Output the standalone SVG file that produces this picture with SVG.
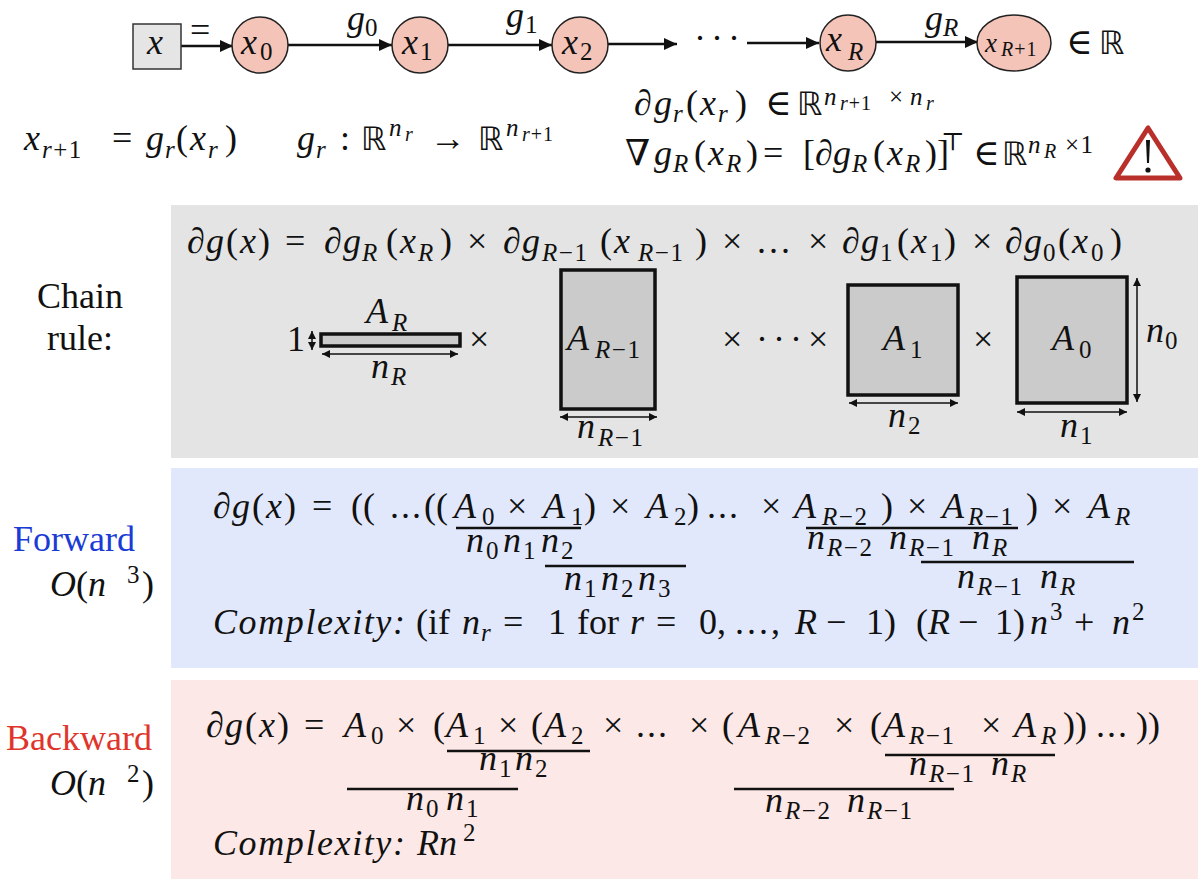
<svg xmlns="http://www.w3.org/2000/svg" width="1200" height="879" viewBox="0 0 1200 879">
<style>
text{font-family:"Liberation Serif","DejaVu Serif",serif;font-size:36px;fill:#111}
.i{font-style:italic}
.s{font-size:25px;letter-spacing:1.5px}
.si{font-size:25px;font-style:italic;letter-spacing:1.5px}
.t{font-size:20px;letter-spacing:1px}
.ti{font-size:20px;font-style:italic;letter-spacing:1px}
.bb{font-family:"DejaVu Sans",sans-serif;font-size:32px}
.c{text-anchor:middle}
.node{fill:#f5c4b8;stroke:#222;stroke-width:1.5}
.edge{stroke:#111;stroke-width:2.5;fill:none;marker-end:url(#big)}
.dim{stroke:#111;stroke-width:1.5;fill:none;marker-start:url(#small);marker-end:url(#small)}
.mat{fill:#cbcbcb;stroke:#111;stroke-width:3.5}
.rule{stroke:#111;stroke-width:2.5}
</style>
<defs>
<marker id="big" markerUnits="userSpaceOnUse" markerWidth="14" markerHeight="14" refX="13" refY="6" orient="auto"><path d="M0 0L13 6L0 12Z" fill="#111"/></marker>
<marker id="small" markerUnits="userSpaceOnUse" markerWidth="9" markerHeight="10" refX="8" refY="4" orient="auto-start-reverse"><path d="M0 0L8 4L0 8Z" fill="#111"/></marker>
</defs>
<rect width="1200" height="879" fill="#fff"/>
<g id="panels">
<rect x="171" y="205" width="1027" height="253" fill="#e4e4e4"/>
<rect x="171" y="468" width="1027" height="200" fill="#e2e8fb"/>
<rect x="171" y="680" width="1027" height="199" fill="#fce8e6"/>
</g>
<g id="connectors">
<line class="edge" x1="180" y1="46" x2="233" y2="46"/>
<line class="edge" x1="288" y1="45" x2="392" y2="45"/>
<line class="edge" x1="448" y1="45" x2="552" y2="45"/>
<line class="edge" x1="608" y1="44" x2="677" y2="44"/>
<line class="edge" x1="747" y1="43" x2="819" y2="43"/>
<line class="edge" x1="876" y1="42" x2="978" y2="42"/>
</g>
<g id="node-x"><rect x="133" y="24" width="48" height="45" fill="#e5e5e5" stroke="#333" stroke-width="1.5"/><text class="i c" x="155" y="54">x</text></g>
<g id="node-x0"><circle class="node" cx="260" cy="45" r="28"/><text y="54"><tspan class="i" x="241">x</tspan><tspan class="s" x="260" y="60">0</tspan></text></g>
<g id="node-x1"><circle class="node" cx="420" cy="45" r="28"/><text y="54"><tspan class="i" x="402">x</tspan><tspan class="s" x="420" y="60">1</tspan></text></g>
<g id="node-x2"><circle class="node" cx="580" cy="45" r="28"/><text y="54"><tspan class="i" x="562">x</tspan><tspan class="s" x="580" y="60">2</tspan></text></g>
<g id="node-xR"><ellipse class="node" cx="848" cy="43" rx="28" ry="28"/><text y="51"><tspan class="i" x="826">x</tspan><tspan class="si" x="848" y="60">R</tspan></text></g>
<g id="node-xR1"><ellipse class="node" cx="1014" cy="43" rx="37" ry="28"/><text y="52" style="font-size:27px"><tspan class="i" x="985">x</tspan><tspan class="ti" x="1001" y="56">R</tspan><tspan class="t">+1</tspan></text></g>
<g id="top-labels">
<text x="190" y="42">=</text>
<text y="30"><tspan class="i" x="347">g</tspan><tspan class="s" x="365" y="36">0</tspan></text>
<text y="27"><tspan class="i" x="506">g</tspan><tspan class="s" x="525" y="33">1</tspan></text>
<text y="30"><tspan class="i" x="925">g</tspan><tspan class="si" x="943" y="36">R</tspan></text>
<text x="694" y="50" style="letter-spacing:5px">···</text>
<text x="1066" y="54">∈</text><text class="bb" x="1099" y="54">ℝ</text>
</g>
<g id="definitions">
<text y="150"><tspan class="i" x="24">x</tspan><tspan class="si" x="42" y="158">r</tspan><tspan class="s">+1</tspan><tspan x="112" y="150">=</tspan><tspan class="i" x="146">g</tspan><tspan class="si" x="165" y="158">r</tspan><tspan x="176" y="150">(</tspan><tspan class="i" x="190">x</tspan><tspan class="si" x="208" y="158">r</tspan><tspan x="225" y="150">)</tspan></text>
<text y="150"><tspan class="i" x="297">g</tspan><tspan class="si" x="316" y="158">r</tspan><tspan x="340" y="150">:</tspan><tspan class="bb" x="361">ℝ</tspan><tspan class="si" x="389" y="136">n</tspan><tspan class="ti" x="405" y="141">r</tspan><tspan x="430" y="150">→</tspan><tspan class="bb" x="478">ℝ</tspan><tspan class="si" x="506" y="136">n</tspan><tspan class="ti" x="522" y="141">r</tspan><tspan class="t">+1</tspan></text>
<text y="115"><tspan x="634">∂</tspan><tspan class="i" x="654">g</tspan><tspan class="si" x="673" y="122">r</tspan><tspan x="686" y="115">(</tspan><tspan class="i" x="700">x</tspan><tspan class="si" x="718" y="122">r</tspan><tspan x="735" y="115">)</tspan><tspan x="765">∈</tspan><tspan class="bb" x="797">ℝ</tspan><tspan class="si" x="824" y="105">n</tspan><tspan class="ti" x="840" y="110">r</tspan><tspan class="t">+1</tspan><tspan class="s" x="889" y="105">×</tspan><tspan class="si" x="910">n</tspan><tspan class="ti" x="926" y="110">r</tspan></text>
<text y="165"><tspan x="625">∇</tspan><tspan class="i" x="654">g</tspan><tspan class="si" x="673" y="172">R</tspan><tspan x="694" y="165">(</tspan><tspan class="i" x="708">x</tspan><tspan class="si" x="726" y="172">R</tspan><tspan x="746" y="165">)</tspan><tspan x="763">=</tspan><tspan x="803">[∂</tspan><tspan class="i" x="833">g</tspan><tspan class="si" x="852" y="172">R</tspan><tspan x="873" y="165">(</tspan><tspan class="i" x="887">x</tspan><tspan class="si" x="905" y="172">R</tspan><tspan x="925" y="165">)]</tspan><tspan class="s" x="941" y="150">⊤</tspan><tspan x="973" y="165">∈</tspan><tspan class="bb" x="1002">ℝ</tspan><tspan class="si" x="1028" y="153">n</tspan><tspan class="ti" x="1044" y="158">R</tspan><tspan class="s" x="1065" y="153">×1</tspan></text>
</g>
<g id="warning">
<path d="M1148 128L1116 178H1180Z" fill="#fff" stroke="#b9302a" stroke-width="5" stroke-linejoin="round"/>
<path d="M1146 140h4l-1 23h-2Z" fill="#111"/><circle cx="1148" cy="170" r="2.6" fill="#111"/>
</g>
<g id="side-labels">
<text class="c" x="80" y="308">Chain</text><text class="c" x="80" y="350">rule:</text>
<text class="c" x="74" y="551" style="fill:#1a3bd6">Forward</text>
<text class="c" x="78" y="596"><tspan class="i">O</tspan>(<tspan class="i">n</tspan><tspan class="s" y="583">3</tspan><tspan y="596">)</tspan></text>
<text class="c" x="79" y="750" style="fill:#e0352b">Backward</text>
<text class="c" x="78" y="795"><tspan class="i">O</tspan>(<tspan class="i">n</tspan><tspan class="s" y="782">2</tspan><tspan y="795">)</tspan></text>
</g>
<g id="chain-equation">
<text y="253"><tspan x="187">∂</tspan><tspan class="i" x="206">g</tspan><tspan x="226">(</tspan><tspan class="i" x="240">x</tspan><tspan x="258">)</tspan><tspan x="285">=</tspan><tspan x="324">∂</tspan><tspan class="i" x="343">g</tspan><tspan class="si" x="362" y="261">R</tspan><tspan x="386" y="253">(</tspan><tspan class="i" x="400">x</tspan><tspan class="si" x="418" y="261">R</tspan><tspan x="440" y="253">)</tspan><tspan x="467">×</tspan><tspan x="503">∂</tspan><tspan class="i" x="522">g</tspan><tspan class="si" x="542" y="261">R</tspan><tspan class="s">−1</tspan><tspan x="600" y="253">(</tspan><tspan class="i" x="614">x</tspan><tspan class="si" x="638" y="261">R</tspan><tspan class="s">−1</tspan><tspan x="695" y="253">)</tspan><tspan x="722">×</tspan><tspan x="757" style="letter-spacing:3px">...</tspan><tspan x="808">×</tspan><tspan x="842">∂</tspan><tspan class="i" x="861">g</tspan><tspan class="s" x="880" y="261">1</tspan><tspan x="897" y="253">(</tspan><tspan class="i" x="911">x</tspan><tspan class="s" x="930" y="261">1</tspan><tspan x="944" y="253">)</tspan><tspan x="972">×</tspan><tspan x="1005">∂</tspan><tspan class="i" x="1024">g</tspan><tspan class="s" x="1043" y="261">0</tspan><tspan x="1058" y="253">(</tspan><tspan class="i" x="1072">x</tspan><tspan class="s" x="1091" y="261">0</tspan><tspan x="1110" y="253">)</tspan></text>
</g>
<g id="matrix-R">
<rect class="mat" x="321" y="334" width="139" height="12"/>
<text y="323"><tspan class="i" x="366">A</tspan><tspan class="si" x="392" y="331">R</tspan></text>
<text x="287" y="351">1</text>
<line class="dim" x1="312" y1="331" x2="312" y2="350"/>
<line class="dim" x1="322" y1="354" x2="458" y2="354"/>
<text y="378"><tspan class="i" x="371">n</tspan><tspan class="si" x="391" y="385">R</tspan></text>
<text x="469" y="351">×</text>
</g>
<g id="matrix-R1">
<rect class="mat" x="561" y="270" width="94" height="139"/>
<text y="350"><tspan class="i" x="567">A</tspan><tspan class="si" x="595" y="358">R</tspan><tspan class="s">−1</tspan></text>
<line class="dim" x1="560" y1="417" x2="657" y2="417"/>
<text y="438"><tspan class="i" x="577">n</tspan><tspan class="si" x="598" y="446">R</tspan><tspan class="s">−1</tspan></text>
</g>
<g id="dots"><text x="722" y="351">×</text><text x="756" y="351" style="letter-spacing:5px">···</text><text x="808" y="351">×</text></g>
<g id="matrix-1">
<rect class="mat" x="848" y="285" width="110" height="110"/>
<text y="350"><tspan class="i" x="883">A</tspan><tspan class="s" x="910" y="358">1</tspan></text>
<line class="dim" x1="849" y1="403" x2="958" y2="403"/>
<text y="427"><tspan class="i" x="888">n</tspan><tspan class="s" x="908" y="434">2</tspan></text>
<text x="973" y="351">×</text>
</g>
<g id="matrix-0">
<rect class="mat" x="1017" y="277" width="110" height="126"/>
<text y="350"><tspan class="i" x="1052">A</tspan><tspan class="s" x="1079" y="358">0</tspan></text>
<line class="dim" x1="1017" y1="412" x2="1127" y2="412"/>
<text y="437"><tspan class="i" x="1060">n</tspan><tspan class="s" x="1080" y="444">1</tspan></text>
<line class="dim" x1="1137" y1="278" x2="1137" y2="402"/>
<text y="342"><tspan class="i" x="1146">n</tspan><tspan class="s" x="1165" y="349">0</tspan></text>
</g>
<g id="forward">
<text y="518"><tspan x="213">∂</tspan><tspan class="i" x="232">g</tspan><tspan x="252">(</tspan><tspan class="i" x="266">x</tspan><tspan x="284">)</tspan><tspan x="312">=</tspan><tspan x="351">((</tspan><tspan x="390" style="letter-spacing:2px">...</tspan><tspan x="424">((</tspan><tspan class="i" x="454">A</tspan><tspan class="s" x="482" y="525">0</tspan><tspan x="507" y="518">×</tspan><tspan class="i" x="543">A</tspan><tspan class="s" x="571" y="525">1</tspan><tspan x="584" y="518">)</tspan><tspan x="610">×</tspan><tspan class="i" x="646">A</tspan><tspan class="s" x="674" y="525">2</tspan><tspan x="687" y="518">)</tspan><tspan x="707" style="letter-spacing:2px">...</tspan><tspan x="761">×</tspan><tspan class="i" x="794">A</tspan><tspan class="si" x="822" y="525">R</tspan><tspan class="s">−2</tspan><tspan x="881" y="518">)</tspan><tspan x="907">×</tspan><tspan class="i" x="942">A</tspan><tspan class="si" x="968" y="525">R</tspan><tspan class="s">−1</tspan><tspan x="1026" y="518">)</tspan><tspan x="1052">×</tspan><tspan class="i" x="1088">A</tspan><tspan class="si" x="1115" y="525">R</tspan></text>
<line class="rule" x1="456" y1="528" x2="581" y2="528"/>
<line class="rule" x1="545" y1="566" x2="686" y2="566"/>
<line class="rule" x1="806" y1="528" x2="1018" y2="528"/>
<line class="rule" x1="921" y1="562" x2="1134" y2="562"/>
<text y="552"><tspan class="i" x="466">n</tspan><tspan class="s" x="486" y="559">0</tspan><tspan class="i" x="503" y="552">n</tspan><tspan class="s" x="523" y="559">1</tspan><tspan class="i" x="541" y="552">n</tspan><tspan class="s" x="561" y="559">2</tspan></text>
<text y="590"><tspan class="i" x="564">n</tspan><tspan class="s" x="584" y="597">1</tspan><tspan class="i" x="601" y="590">n</tspan><tspan class="s" x="621" y="597">2</tspan><tspan class="i" x="638" y="590">n</tspan><tspan class="s" x="658" y="597">3</tspan></text>
<text y="549"><tspan class="i" x="807">n</tspan><tspan class="si" x="827" y="556">R</tspan><tspan class="s">−2</tspan><tspan class="i" x="889" y="549">n</tspan><tspan class="si" x="909" y="556">R</tspan><tspan class="s">−1</tspan><tspan class="i" x="972" y="549">n</tspan><tspan class="si" x="992" y="556">R</tspan></text>
<text y="588"><tspan class="i" x="957">n</tspan><tspan class="si" x="977" y="595">R</tspan><tspan class="s">−1</tspan><tspan class="i" x="1040" y="588">n</tspan><tspan class="si" x="1060" y="595">R</tspan></text>
<text y="634"><tspan class="i" x="213" style="letter-spacing:1.6px">Complexity:</tspan><tspan x="416">(if</tspan><tspan class="i" x="462">n</tspan><tspan class="si" x="481" y="641">r</tspan><tspan x="503" y="634">=</tspan><tspan x="548">1</tspan><tspan x="577">for</tspan><tspan class="i" x="630">r</tspan><tspan x="656">=</tspan><tspan x="699">0,</tspan><tspan x="735" style="letter-spacing:3px">...,</tspan><tspan class="i" x="795">R</tspan><tspan x="826">−</tspan><tspan x="866">1)</tspan><tspan x="916">(</tspan><tspan class="i" x="928">R</tspan><tspan x="958">−</tspan><tspan x="995">1)</tspan><tspan class="i" x="1030">n</tspan><tspan class="s" x="1050" y="620">3</tspan><tspan x="1074" y="634">+</tspan><tspan class="i" x="1112">n</tspan><tspan class="s" x="1132" y="620">2</tspan></text>
</g>
<g id="backward">
<text y="737"><tspan x="206">∂</tspan><tspan class="i" x="225">g</tspan><tspan x="245">(</tspan><tspan class="i" x="259">x</tspan><tspan x="277">)</tspan><tspan x="304">=</tspan><tspan class="i" x="344">A</tspan><tspan class="s" x="371" y="744">0</tspan><tspan x="396" y="737">×</tspan><tspan x="433">(</tspan><tspan class="i" x="446">A</tspan><tspan class="s" x="473" y="744">1</tspan><tspan x="498" y="737">×</tspan><tspan x="531">(</tspan><tspan class="i" x="544">A</tspan><tspan class="s" x="571" y="744">2</tspan><tspan x="603" y="737">×</tspan><tspan x="636" style="letter-spacing:2px">...</tspan><tspan x="689">×</tspan><tspan x="722">(</tspan><tspan class="i" x="738">A</tspan><tspan class="si" x="765" y="744">R</tspan><tspan class="s">−2</tspan><tspan x="834" y="737">×</tspan><tspan x="870">(</tspan><tspan class="i" x="883">A</tspan><tspan class="si" x="909" y="744">R</tspan><tspan class="s">−1</tspan><tspan x="981" y="737">×</tspan><tspan class="i" x="1014">A</tspan><tspan class="si" x="1041" y="744">R</tspan><tspan x="1063" y="737">))</tspan><tspan x="1096" style="letter-spacing:2px">...</tspan><tspan x="1136">))</tspan></text>
<line class="rule" x1="447" y1="751" x2="590" y2="751"/>
<line class="rule" x1="885" y1="755" x2="1055" y2="755"/>
<line class="rule" x1="347" y1="789" x2="518" y2="789"/>
<line class="rule" x1="734" y1="789" x2="954" y2="789"/>
<text y="770"><tspan class="i" x="479">n</tspan><tspan class="s" x="499" y="777">1</tspan><tspan class="i" x="515" y="770">n</tspan><tspan class="s" x="535" y="777">2</tspan></text>
<text y="775"><tspan class="i" x="909">n</tspan><tspan class="si" x="929" y="782">R</tspan><tspan class="s">−1</tspan><tspan class="i" x="991" y="775">n</tspan><tspan class="si" x="1011" y="782">R</tspan></text>
<text y="810"><tspan class="i" x="406">n</tspan><tspan class="s" x="426" y="817">0</tspan><tspan class="i" x="446" y="810">n</tspan><tspan class="s" x="466" y="817">1</tspan></text>
<text y="812"><tspan class="i" x="765">n</tspan><tspan class="si" x="785" y="819">R</tspan><tspan class="s">−2</tspan><tspan class="i" x="847" y="812">n</tspan><tspan class="si" x="867" y="819">R</tspan><tspan class="s">−1</tspan></text>
<text y="855"><tspan class="i" x="213" style="letter-spacing:1.6px">Complexity:</tspan><tspan class="i" x="417">Rn</tspan><tspan class="s" x="463" y="841">2</tspan></text>
</g>
</svg>
